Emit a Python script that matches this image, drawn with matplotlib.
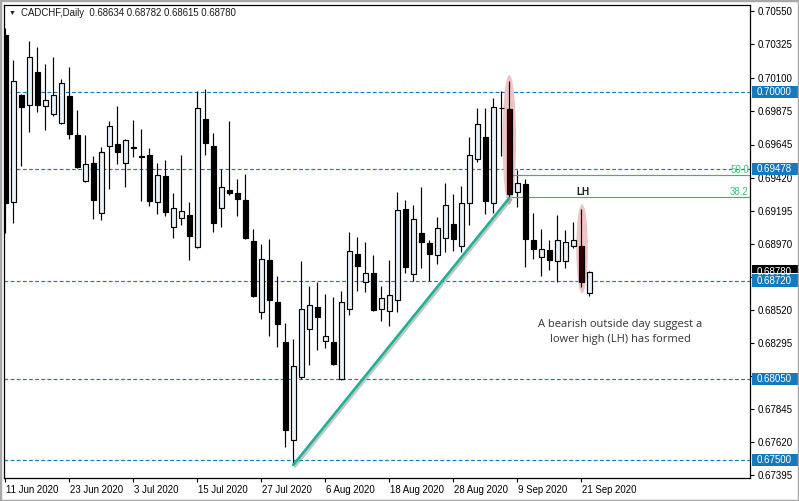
import matplotlib
matplotlib.use("Agg")
import matplotlib.pyplot as plt
import matplotlib.transforms as mtransforms
import matplotlib.patheffects as pe
from matplotlib.patches import Rectangle, Ellipse

plt.rcParams['font.family'] = ['Liberation Sans', 'DejaVu Sans']

# daily CADCHF candles, 11 Jun 2020 .. 22 Sep 2020
opens = [0.70390, 0.69256, 0.69982, 0.69912, 0.70136, 0.69905, 0.69850, 0.69789, 0.69975, 0.69710,
         0.69399, 0.69517, 0.69177, 0.69633, 0.69648, 0.69517, 0.69626, 0.69565, 0.69574, 0.69252,
         0.69429, 0.69082, 0.69143, 0.69164, 0.68946, 0.69818, 0.69635, 0.69211, 0.69334, 0.69313,
         0.69266, 0.68987, 0.68504, 0.68858, 0.68574, 0.68300, 0.67634, 0.68062, 0.68388, 0.68538,
         0.68307, 0.68300, 0.68048, 0.68528, 0.68900, 0.68708, 0.68771, 0.68524, 0.68511, 0.68586,
         0.69206, 0.68762, 0.69041, 0.68973, 0.68892, 0.69007, 0.69104, 0.68957, 0.69245, 0.69544,
         0.69696, 0.69245, 0.69893, 0.69888, 0.69320, 0.69374, 0.68994, 0.68878, 0.68926, 0.68851,
         0.68851, 0.68953, 0.68955, 0.68634]
highs = [0.70435, 0.70220, 0.69988, 0.70349, 0.70308, 0.70192, 0.70240, 0.70088, 0.70172, 0.69880,
         0.69710, 0.69567, 0.69628, 0.69805, 0.69907, 0.69682, 0.69812, 0.69750, 0.69621, 0.69519,
         0.69537, 0.69313, 0.69574, 0.69252, 0.70009, 0.70022, 0.69723, 0.69476, 0.69805, 0.69408,
         0.69444, 0.69068, 0.68966, 0.69000, 0.68751, 0.68429, 0.68322, 0.68853, 0.68683, 0.68712,
         0.68628, 0.68610, 0.68649, 0.69050, 0.69018, 0.68982, 0.68894, 0.68683, 0.68860, 0.69322,
         0.69268, 0.69232, 0.69354, 0.68996, 0.69152, 0.69383, 0.69308, 0.69363, 0.69694, 0.69891,
         0.69891, 0.69959, 0.70009, 0.70077, 0.69470, 0.69412, 0.69177, 0.69068, 0.68994, 0.69166,
         0.69066, 0.69118, 0.69206, 0.68782]
lows = [0.69041, 0.69109, 0.69501, 0.69732, 0.69868, 0.69746, 0.69839, 0.69784, 0.69684, 0.69487,
        0.69390, 0.69138, 0.69132, 0.69342, 0.69512, 0.69358, 0.69562, 0.69263, 0.69227, 0.69174,
        0.69159, 0.69011, 0.69100, 0.68860, 0.68941, 0.69576, 0.69052, 0.69086, 0.69302, 0.69161,
        0.69004, 0.68611, 0.68456, 0.68345, 0.68270, 0.67590, 0.67466, 0.68048, 0.68146, 0.68248,
        0.68263, 0.68146, 0.68044, 0.68488, 0.68651, 0.68644, 0.68511, 0.68447, 0.68413, 0.68504,
        0.68773, 0.68717, 0.68807, 0.68717, 0.68834, 0.68916, 0.68921, 0.68916, 0.69098, 0.69526,
        0.69172, 0.69179, 0.69569, 0.69281, 0.69222, 0.68814, 0.68864, 0.68753, 0.68795, 0.68708,
        0.68807, 0.68941, 0.68679, 0.68615]
closes = [0.69249, 0.70075, 0.69902, 0.70238, 0.69916, 0.69946, 0.69980, 0.70061, 0.69718, 0.69494,
          0.69510, 0.69270, 0.69592, 0.69769, 0.69592, 0.69674, 0.69624, 0.69563, 0.69263, 0.69436,
          0.69184, 0.69211, 0.69191, 0.69025, 0.69891, 0.69657, 0.69113, 0.69354, 0.69313, 0.69272,
          0.69009, 0.68617, 0.68864, 0.68590, 0.68426, 0.67706, 0.68139, 0.68524, 0.68552, 0.68474,
          0.68341, 0.68152, 0.68572, 0.68919, 0.68821, 0.68769, 0.68520, 0.68599, 0.68620, 0.69198,
          0.68814, 0.69138, 0.68980, 0.68898, 0.69075, 0.69232, 0.69000, 0.69247, 0.69572, 0.69782,
          0.69263, 0.69898, 0.69890, 0.69308, 0.69381, 0.69000, 0.68932, 0.68932, 0.68858, 0.68994,
          0.68980, 0.68994, 0.68712, 0.68780]

date_pos = [0, 8, 16, 24, 32, 40, 48, 56, 64, 72]
date_labels = ['11 Jun 2020', '23 Jun 2020', '3 Jul 2020', '15 Jul 2020', '27 Jul 2020',
               '6 Aug 2020', '18 Aug 2020', '28 Aug 2020', '9 Sep 2020', '21 Sep 2020']
price_ticks = [0.70550, 0.70325, 0.70100, 0.69875, 0.69645, 0.69420, 0.69195, 0.68970,
               0.68745, 0.68520, 0.68295, 0.68070, 0.67845, 0.67620, 0.67395]
hidden_ticks = [0.68745, 0.68070]   # covered by the price boxes
levels = [0.70000, 0.69478, 0.68720, 0.68050, 0.67500]
fib_levels = [0.69436, 0.69286]
fib_labels = ['50.0', '38.2']
highlight = [63, 72]
trend_from, trend_to = 36, 63

blue = '#1479bd'
body_up = '#eaf4fc'

fig = plt.figure(figsize=(7.99, 5.01), dpi=100)
ax = fig.add_axes([4 / 799, 23 / 501, 746 / 799, 473 / 501])
ax.set_xlim(-0.16, 93.09)
ax.set_ylim(0.673772, 0.705936)

# support / resistance lines
for lv in levels:
    ax.axhline(lv, color=blue, lw=0.85, ls=(0, (3.2, 2)), zorder=1)

# highlight ellipses
ax.add_patch(Ellipse((63, 0.69676), 1.7, 0.00884, fc='#efc4c4', ec='none', zorder=2))
ax.add_patch(Ellipse((72.1, 0.68936), 1.45, 0.00605, fc='#efc4c4', ec='none', zorder=2))

# candles
for i in range(len(opens)):
    o, h, l, c = opens[i], highs[i], lows[i], closes[i]
    ax.vlines(i, l, h, color='black', lw=0.85, zorder=3)
    if c > o:
        fc = body_up
    else:
        fc = '#2a0303' if i in highlight else 'black'
    ax.add_patch(Rectangle((i - 0.3, min(o, c)), 0.6, abs(c - o),
                           fc=fc, ec='black', lw=0.85, zorder=4))

# fibonacci lines
for lv, lab in zip(fib_levels, fib_labels):
    ax.hlines(lv, 63.2, 93.09, color='#3cb371', lw=0.85, zorder=3)
    ax.text(92.95, lv + 0.00004, lab, color='#3fbf7a', fontsize=7, ha='right', va='bottom', zorder=5)

# trend line
ax.plot([trend_from, trend_to], [lows[trend_from], lows[trend_to]], color='#1fb096', lw=1.9,
        solid_capstyle='round', zorder=6,
        path_effects=[pe.SimpleLineShadow(offset=(1.2, -1.2), shadow_color='gray', alpha=0.45),
                      pe.Normal()])

ax.text(72.2, 0.69322, 'LH', fontsize=7.2, fontweight='bold', color='#222222',
        ha='center', va='center', zorder=6)
ax.text(76.84, 0.68370, 'A bearish outside day suggest a\nlower high (LH) has formed',
        family=['Open Sans', 'DejaVu Sans'], fontsize=8, color='#333333', ha='center',
        va='center', linespacing=1.45, zorder=6)

# axes styling
for sp in ax.spines.values():
    sp.set_linewidth(0.9)
ax.yaxis.tick_right()
ax.set_yticks(price_ticks)
ax.set_yticklabels(['' if t in hidden_ticks else '%.5f' % t for t in price_ticks])
ax.tick_params(axis='y', direction='out', length=3, width=0.8, pad=2.2, labelsize=7)
ax.set_xticks(date_pos)
ax.set_xticklabels(date_labels, ha='left')
ax.tick_params(axis='x', direction='out', length=3, width=0.8, pad=2, labelsize=6.9)
for lbl in ax.get_xticklabels():
    lbl.set_transform(lbl.get_transform() + mtransforms.ScaledTranslation(1 / 100, 0, fig.dpi_scale_trans))

# price boxes on the right axis
bt = mtransforms.blended_transform_factory(ax.transAxes, ax.transData)
box_prices = [0.70000, 0.69478, 0.68780, 0.68720, 0.68050, 0.67500]
box_colors = [blue, blue, 'black', blue, blue, blue]
box_h = [0.00082, 0.00082, 0.00060, 0.00082, 0.00082, 0.00082]
for p, col, hh in zip(box_prices, box_colors, box_h):
    yb = p - 0.00041 if hh > 0.0007 else p - 0.00011
    ax.add_patch(Rectangle((1.0027, yb), 0.0617, hh, transform=bt,
                           fc=col, ec='none', clip_on=False, zorder=7))
    ax.text(1.0094, p, '%.5f' % p, transform=bt, color='white', fontsize=7,
            ha='left', va='center', clip_on=False, zorder=8)

# header
fig.text(9 / 799, 1 - 13 / 501, '\u25bc', fontsize=5, va='center', color='#222222')
fig.text(21 / 799, 1 - 13 / 501,
         'CADCHF,Daily  %.5f %.5f %.5f %.5f' % (opens[-1], highs[-1], lows[-1], closes[-1]),
         fontsize=6.9, va='center', color='#1a1a1a')

# window border
fig.patches.append(Rectangle((0, 0), 1, 1, transform=fig.transFigure, fill=False,
                             ec='#a8a8a8', lw=2.5))

fig.savefig('out.png', dpi=100)
